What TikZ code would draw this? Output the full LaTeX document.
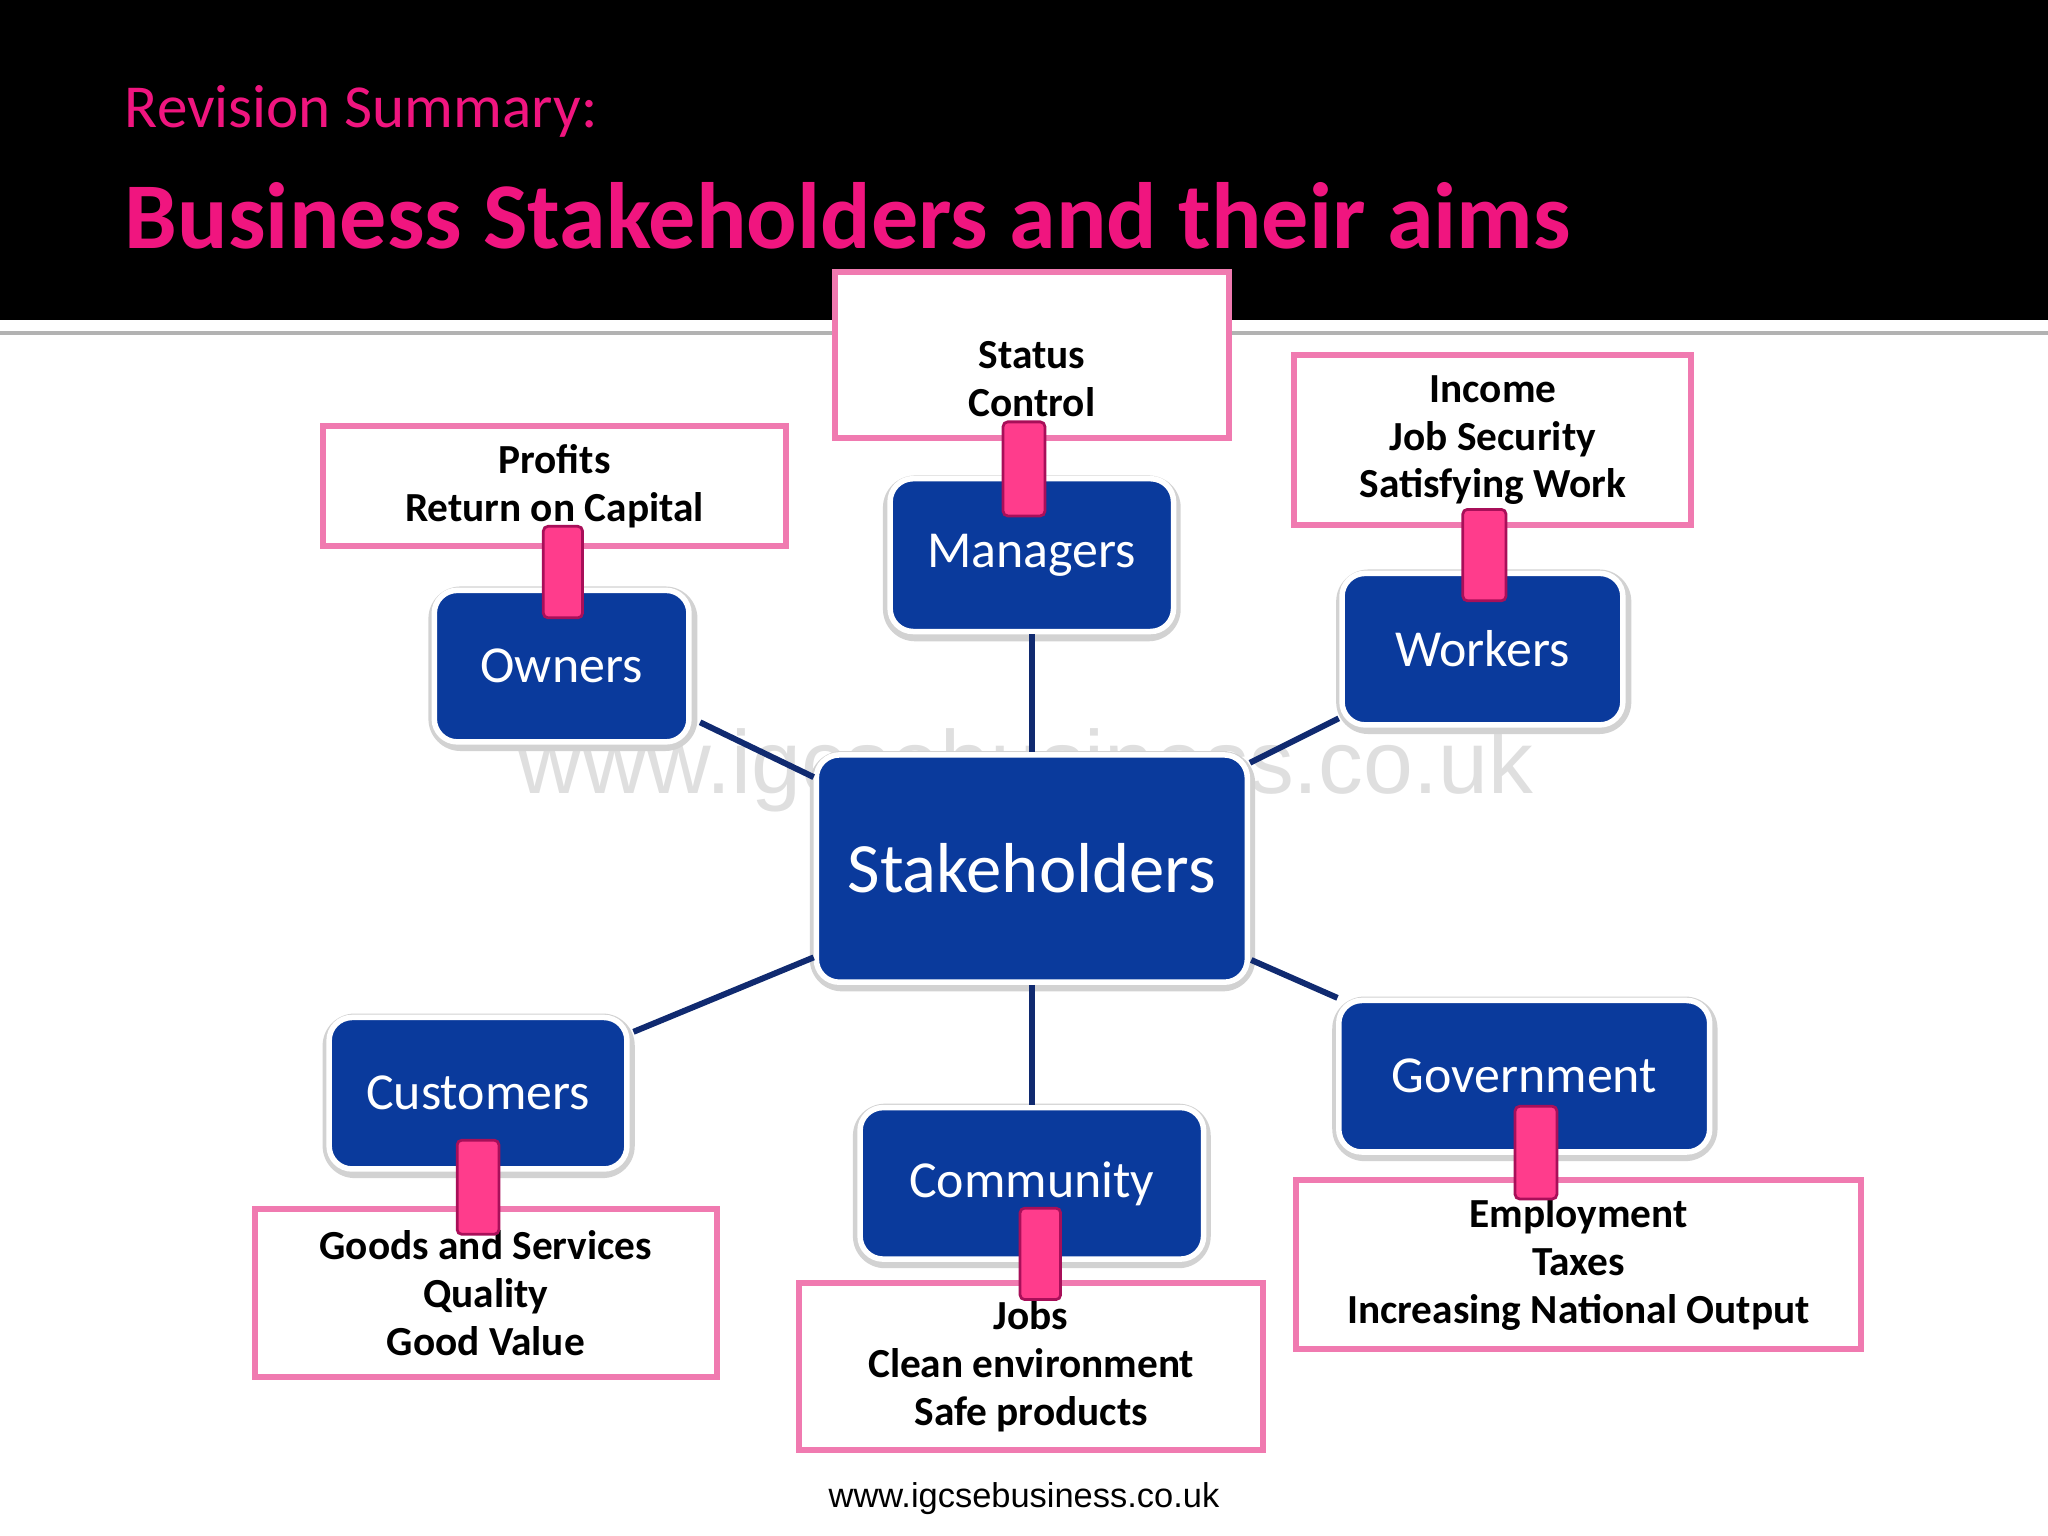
\documentclass[tikz,border=0pt]{standalone}
\usepackage{fontspec}
\setmainfont{Carlito}
\newfontfamily\arialf{Liberation Sans}
\definecolor{hpink}{HTML}{F0157F}
\definecolor{nblue}{HTML}{0A3A9C}
\definecolor{bpink}{HTML}{F07AB0}
\definecolor{cpink}{HTML}{FF3C8C}
\definecolor{navy}{HTML}{102A70}
\begin{document}
\begin{tikzpicture}[x=0.01cm,y=-0.01cm,
 sz/.style 2 args={minimum width=#1*0.01cm,minimum height=#2*0.01cm},
 sh/.style={fill=nblue,draw=white,line width=1.2pt,rounded corners=5pt,text=white,inner sep=0pt},
 lab/.style={font=\fontsize{11.3pt}{13pt}\selectfont},
 aim/.style={fill=white,draw=bpink,line width=1.3pt,inner sep=0pt,align=center,font=\bfseries\fontsize{9pt}{10.4pt}\selectfont},
 clip/.style={fill=cpink,draw=hpink!70!black,line width=0.6pt,rounded corners=1pt,inner sep=0pt},
 link/.style={draw=navy,line width=1.3pt}]
\useasboundingbox (0,0) rectangle (1568,1176);
\fill[black] (0,0) rectangle (1568,245);
\draw[gray!60,line width=1pt] (0,255) -- (1568,255);
\node[anchor=west,inner sep=0pt,text=hpink,font=\fontsize{13.3pt}{15pt}\selectfont] (t1) at (95,85) {Revision Summary:};
\node[anchor=west,inner sep=0pt,text=hpink,font=\bfseries\fontsize{20.5pt}{22pt}\selectfont] (t2) at (95,165) {Business Stakeholders and their aims};
\node[text=gray!25,font=\arialf\fontsize{19.5pt}{21pt}\selectfont] (wm) at (785,590) {www.igcsebusiness.co.uk};
\node[font=\arialf\fontsize{7.5pt}{8pt}\selectfont] (ft) at (784,1147) {www.igcsebusiness.co.uk};
% shadows
\foreach \a/\b/\c/\d in {625/578/955/752,333/452/528/568,681/367/898/484,1028/439/1243/555,252/779/480/895,658/848/921/964,1025/766/1309/882}
  \fill[gray!35,rounded corners=7pt] (\a-5,\b-3) rectangle (\c+6,\d+7);
% boxes
\node[sh,sz={330}{174},font=\fontsize{15.4pt}{17pt}\selectfont] (st) at (790,665) {Stakeholders};
\node[sh,sz={195}{116},lab] (ow) at (430,510) {Owners};
\node[sh,sz={217}{117},lab] (ma) at (790,425) {Managers};
\node[sh,sz={215}{116},lab] (wo) at (1135,497) {Workers};
\node[sh,sz={228}{116},lab] (cu) at (366,837) {Customers};
\node[sh,sz={263}{116},lab] (co) at (790,906) {Community};
\node[sh,sz={284}{116},lab] (go) at (1167,824) {Government};
% links
\draw[link] (536,553) -- (623,595);
\draw[link] (ma.south) -- (ma.south |- st.north);
\draw[link] (957,584) -- (1025,550);
\draw[link] (485,790) -- (623,733);
\draw[link] (st.south) -- (co.north);
\draw[link] (958,735) -- (1024,764);
% aims
\node[aim,sz={355}{92}] (a1) at (424.5,372) {Profits\\Return on Capital};
\node[aim,sz={302}{127}] (a2) at (790,271.5) {\raisebox{-1.1cm}{}\\[-0.2cm]};
\node[font=\bfseries\fontsize{9pt}{10.4pt}\selectfont,align=center] (a2t) at (790,290) {Status\\Control};
\node[aim,sz={304}{130}] (a3) at (1143,337) {Income\\Job Security\\Satisfying Work};
\node[aim,sz={354}{129}] (a4) at (372,990) {Goods and Services\\Quality\\Good Value};
\node[aim,sz={355}{128}] (a5) at (789.5,1046) {Jobs\\Clean environment\\Safe products};
\node[aim,sz={433}{129}] (a6) at (1208.5,968) {Employment\\Taxes\\Increasing National Output};
% clips
\node[clip,sz={30}{70}] (c1) at (431,438) {};
\node[clip,sz={32}{72}] (c2) at (784,359) {};
\node[clip,sz={33}{70}] (c3) at (1136.5,425) {};
\node[clip,sz={32}{72}] (c4) at (366,909) {};
\node[clip,sz={31}{70}] (c5) at (796.5,960) {};
\node[clip,sz={32}{71}] (c6) at (1176,882.5) {};
\end{tikzpicture}
\end{document}
